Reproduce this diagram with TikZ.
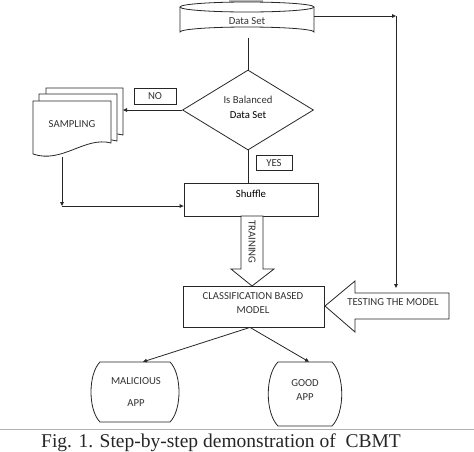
\documentclass[tikz,border=0pt]{standalone}
\usepackage{fontspec}
\setmainfont{Carlito}
\newfontfamily\capfont{Liberation Serif}
\usetikzlibrary{shapes.geometric,arrows.meta}
\tikzset{
  ln/.style={draw=black!85, line width=0.8pt},
  arr/.style={ln, -{Triangle[length=4pt,width=3.6pt]}},
  txt/.style={font=\fontsize{10.7}{12}\selectfont, text=black!80, inner sep=0pt, align=center},
  boxs/.style={ln, rectangle, inner sep=0pt},
  shp/.style={ln, fill=white},
}
\begin{document}
\begin{tikzpicture}[x=1pt,y=-1pt]
\useasboundingbox (0,0) rectangle (474,451);
% gray bar at top
\fill[gray!55] (229,0) rectangle (263,2.5);
% Data Set cylinder
\draw[shp] (180,7) -- (180,32) arc[start angle=180,end angle=360,x radius=67,y radius=5] -- (314,7);
\draw[shp] (247,7) ellipse[x radius=67,y radius=5];
\node[minimum width=134pt, minimum height=35pt, inner sep=0pt] (data) at (247,20) {};
\node[txt] (datatxt) at (247,21) {Data Set};
% decision diamond
\node[diamond, ln, minimum width=131pt, minimum height=80pt, inner sep=0pt] (dec) at (248,110) {};
\node[txt] (dec1) at (248,100) {Is Balanced};
\node[txt, text=black] (dec2) at (248,115) {Data Set};
% NO and YES labels
\node[boxs, minimum width=42pt, minimum height=16pt] (no) at (155,96) {};
\node[txt] (notxt) at (155,96.5) {NO};
\node[boxs, minimum width=36pt, minimum height=15pt] (yes) at (274,163) {};
\node[txt] (yestxt) at (274,163.5) {YES};
% sampling documents
\draw[shp] (46,88) -- (123,88) -- (123,135) .. controls (95,128) and (75,152) .. (46,144) -- cycle;
\draw[shp] (39,94) -- (117,94) -- (117,141) .. controls (90,134) and (68,158) .. (39,150) -- cycle;
\draw[shp] (33,101) -- (111,101) -- (111,143) .. controls (85,136) and (62,164) .. (33,154) -- cycle;
\node[minimum width=90pt, minimum height=70pt, inner sep=0pt] (samp) at (78,121) {};
\node[txt] (samptxt) at (72,124) {SAMPLING};
% shuffle
\node[boxs, minimum width=134pt, minimum height=33pt] (shuf) at (251,199.5) {};
\node[txt, text=black] (shuftxt) at (251,194) {Shuffle};
% training hollow arrow
\draw[shp] (241,216) -- (263,216) -- (263,269) -- (274,269) -- (252,286) -- (231,269) -- (241,269) -- cycle;
\node[txt, rotate=-90] (train) at (252,242) {TRAINING};
% classification
\node[boxs, minimum width=141pt, minimum height=41pt] (cls) at (253.5,306.5) {};
\node[txt] (cls1) at (253,296.5) {CLASSIFICATION BASED};
\node[txt] (cls2) at (253,310.5) {MODEL};
% testing hollow arrow
\draw[shp] (325,306) -- (355,281) -- (355,293) -- (449,293) -- (449,319) -- (355,319) -- (355,332) -- cycle;
\node[txt] (test) at (393,302) {TESTING THE MODEL};
% result shapes
\draw[shp] (100,362) -- (170,362) .. controls (182,374) and (182,410) .. (170,422) -- (100,422) .. controls (88,410) and (88,374) .. (100,362) -- cycle;
\node[minimum width=86pt, minimum height=60pt, inner sep=0pt] (mal) at (136,392) {};
\node[txt] (mal1) at (136,381) {MALICIOUS};
\node[txt] (mal2) at (136,403) {APP};
\draw[shp] (278,362) -- (332,362) .. controls (345,375) and (345,413) .. (332,426) -- (278,426) .. controls (265,413) and (265,375) .. (278,362) -- cycle;
\node[minimum width=73pt, minimum height=64pt, inner sep=0pt] (good) at (305,394) {};
\node[txt] (good1) at (305,383) {GOOD};
\node[txt] (good2) at (305,397) {APP};
% connectors
\coordinate (corner) at (396,16);
\coordinate (testend) at (396,288);
\coordinate (sampdown) at (62,206);
\coordinate (sampbot) at (62,157);
\coordinate (sampright) at (123,110);
\draw[ln] (data.south) ++(1,0) -- (dec.north);
\draw[arr] (314,16) -- (corner);
\draw[arr] (corner) -- (testend);
\draw[arr] (dec.west) -- (sampright);
\draw[arr] (sampbot) -- (sampdown);
\draw[arr] (sampdown) -- (sampdown -| shuf.west);
\draw[ln] (dec.south) -- (dec.south |- shuf.north);
\draw[arr] ([xshift=-3.5pt]cls.south) -- ([xshift=7pt]mal.north);
\draw[arr] ([xshift=-3.5pt]cls.south) -- ([xshift=4pt]good.north);
% separator and caption
\draw[gray!60, line width=0.8pt] (0,429) -- (474,429);
\node[inner sep=0pt, anchor=base, font=\capfont\fontsize{19.5}{22}\selectfont, text=black!85] (cap) at (221,447) {Fig. 1. Step-by-step demonstration of \ CBMT};
\end{tikzpicture}
\end{document}
